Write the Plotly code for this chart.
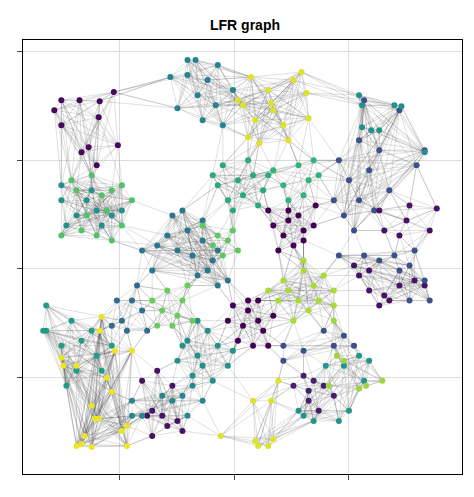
import plotly.graph_objects as go
import itertools

# communities: (colour value 0..1, node positions in chart units)
communities = [
 (0.02, [(60,100),(53,110),(78,100),(98,101),(112,92),(60,125),(97,117),(87,147),(80,152),(95,165),(116,145)]),
 (0.45, [(185,60),(193,60),(215,65),(230,90),(200,120),(185,75),(175,108),(195,95),(213,105),(220,125),(168,77),(205,80)]),
 (0.95, [(248,77),(298,72),(290,80),(265,90),(303,93),(240,105),(252,120),(270,110),(280,125),(256,143),(245,137),(285,140),(305,118),(235,100),(268,103)]),
 (0.6, [(220,165),(235,180),(250,175),(240,195),(260,190),(225,200),(215,185),(245,160),(265,175),(210,175),(230,210),(255,205)]),
 (0.0, [(270,225),(285,210),(295,215),(280,235),(300,230),(265,210),(290,245),(310,225),(275,250),(300,240),(285,220),(312,205)]),
 (0.65, [(295,165),(305,180),(280,185),(310,160),(285,200),(300,195),(315,175),(270,170)]),
 (0.25, [(335,160),(355,140),(345,180),(355,200),(340,215),(350,230),(365,170),(375,150),(360,100),(395,110),(420,150),(412,165),(385,190),(370,210),(330,200)]),
 (0.05, [(405,205),(432,208),(375,210),(395,235),(380,230),(402,220),(425,230)]),
 (0.4, [(170,215),(185,230),(200,240),(175,250),(190,255),(210,260),(205,270),(165,235),(155,245),(195,275),(215,285),(225,280),(200,220),(180,210),(215,250),(140,250),(150,270)]),
 (0.75, [(200,225),(215,235),(225,240),(220,255),(230,230),(210,245),(235,250)]),
 (0.72, [(70,180),(75,190),(90,175),(100,195),(110,190),(120,185),(80,230),(95,235),(110,240),(60,235),(120,225),(130,200),(105,210),(85,215)]),
 (0.5, [(60,185),(60,200),(75,215),(95,210),(110,215),(85,200),(65,225),(90,190),(100,225),(120,210)]),
 (0.87, [(280,280),(300,270),(310,285),(320,275),(295,300),(275,300),(315,300),(305,310),(285,290),(330,290),(265,290),(300,260),(330,305),(290,320)]),
 (0.0, [(230,305),(245,310),(255,320),(240,325),(260,330),(235,340),(250,345),(270,315),(225,320),(265,345),(245,300),(255,300)]),
 (0.5, [(185,340),(195,355),(205,330),(215,345),(200,365),(225,365),(190,375),(210,380),(230,350),(195,320),(175,360),(180,345)]),
 (0.77, [(165,290),(180,300),(175,315),(160,310),(190,320),(155,325),(185,285),(150,300),(170,325)]),
 (0.35, [(135,285),(130,300),(120,320),(140,310),(125,330),(110,325),(145,330),(115,300)]),
 (0.55, [(45,305),(42,330),(60,345),(70,320),(80,340),(95,355),(75,370),(100,370),(110,345),(90,330),(65,385),(45,330)]),
 (0.97, [(100,316),(98,330),(60,357),(62,365),(75,365),(113,350),(130,350),(105,377),(90,405),(110,391),(97,418),(93,418),(80,443),(75,445),(90,446),(125,445),(120,430),(125,425),(83,435)]),
 (0.05, [(140,380),(155,370),(150,410),(160,415),(170,385),(165,425),(180,430),(150,435),(145,415),(175,420)]),
 (0.47, [(130,400),(140,415),(160,395),(180,395),(190,385),(200,400),(185,415),(170,400),(130,415)]),
 (0.95, [(218,435),(252,440),(255,445),(265,445),(270,438),(268,400),(250,400),(275,380)]),
 (0.08, [(300,375),(310,380),(320,385),(305,390),(330,395),(315,410),(305,400),(290,385)]),
 (0.52, [(295,410),(300,415),(345,410),(360,380),(365,360),(335,420),(310,420),(355,355),(340,365),(322,365)]),
 (0.25, [(280,345),(300,350),(330,345),(350,345),(320,330),(340,335),(280,360)]),
 (0.85, [(330,320),(333,355),(340,360),(325,385),(355,388),(362,385),(378,380)]),
 (0.05, [(355,275),(365,270),(380,295),(375,305),(385,300),(395,285),(365,290),(350,265),(410,280),(420,285)]),
 (0.25, [(390,255),(405,265),(420,280),(425,300),(405,300),(395,270),(410,250),(360,255),(335,255),(375,260)]),
 (0.5, [(355,95),(358,105),(390,105),(397,106),(367,130),(375,130),(358,127),(420,152)]),
]

ex, ey = [], []
for _, pts in communities:
    for a, b in itertools.combinations(pts, 2):
        ex += [a[0], b[0], None]; ey += [a[1], b[1], None]
# inter-community links: each node to its 3 nearest nodes of other communities
nodes = [(p, ci) for ci, (_, pts) in enumerate(communities) for p in pts]
for p, ci in nodes:
    others = sorted((q for q, cj in nodes if cj != ci),
                    key=lambda q: (q[0]-p[0])**2 + (q[1]-p[1])**2)[:3]
    for q in others:
        ex += [p[0], q[0], None]; ey += [p[1], q[1], None]

nx = [p[0] for p, _ in nodes]
ny = [p[1] for p, _ in nodes]
nc = [communities[ci][0] for _, ci in nodes]

fig = go.Figure()
fig.add_trace(go.Scatter(x=ex, y=ey, mode="lines",
    line=dict(color="rgba(50,50,50,0.3)", width=0.5), hoverinfo="skip"))
fig.add_trace(go.Scatter(x=nx, y=ny, mode="markers",
    marker=dict(size=6, color=nc, colorscale="Viridis", cmin=0, cmax=1, line=dict(width=0))))

ax = dict(showticklabels=False, ticks="outside", ticklen=5, showgrid=True,
          gridcolor="#dddddd", zeroline=False, showline=True, linecolor="black", mirror=True, linewidth=1)
fig.update_layout(
    width=474, height=497, showlegend=False, plot_bgcolor="white", paper_bgcolor="white",
    margin=dict(l=10, r=20, t=32, b=31),
    title=dict(text="<b>LFR graph</b>", x=0.5, xanchor="center", y=0.975, font=dict(family="Liberation Sans", size=14, color="black")),
    xaxis=dict(range=[22, 457], tickvals=[118, 232, 345], **ax),
    yaxis=dict(range=[473, 40], tickvals=[51, 160, 268, 377], **ax),
)
fig.write_html("out.html")
